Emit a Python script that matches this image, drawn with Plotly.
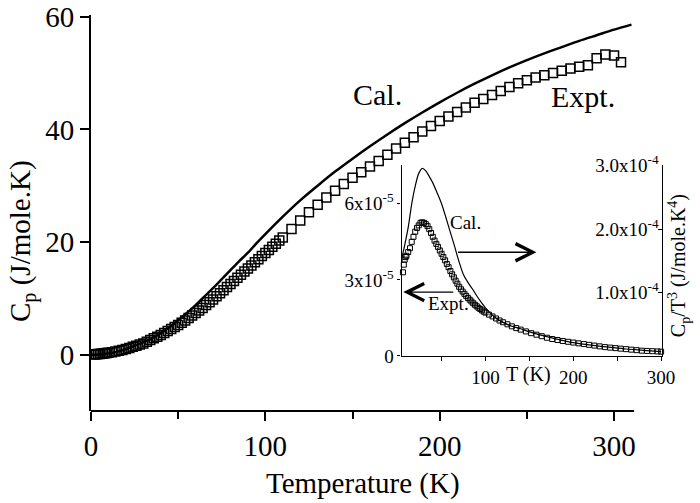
import plotly.graph_objects as go

# ---------------- main panel data ----------------
cal_T = [0, 5, 10, 15, 20, 25, 30, 35, 40, 45, 50, 55, 60, 65, 70, 75, 80, 85, 90, 95, 100,
         110, 120, 130, 140, 150, 160, 170, 180, 190, 200, 210, 220, 230, 240, 250, 260,
         270, 280, 290, 300, 310]
cal_Cp = [0, 0.05, 0.2, 0.5, 1.0, 1.6, 2.2, 2.9, 3.8, 4.9, 6.1, 7.4, 8.8, 10.3, 11.8, 13.4,
          15.0, 16.6, 18.1, 19.8, 21.4, 24.5, 27.4, 30.0, 32.5, 34.8, 37.0, 39.1, 41.1, 43.0,
          44.8, 46.5, 48.1, 49.6, 51.0, 52.3, 53.5, 54.6, 55.7, 56.7, 57.7, 58.6]

exp_T = [2, 3, 4, 5, 6, 7, 8, 9, 10, 12, 14, 16, 18, 20, 22, 24, 26, 28, 30, 32, 34, 36, 38,
         40, 42, 44, 46, 48, 50, 52, 54, 56, 58, 60, 62, 64, 66, 68, 70, 72, 74, 76, 78, 80,
         82, 84, 86, 88, 90, 92, 94, 96, 98, 100, 102, 104, 106, 108, 110,
         115, 120, 125, 130, 135, 140, 145, 150, 155, 160, 165, 170, 175, 180, 185, 190, 195,
         200, 205, 210, 215, 220, 225, 230, 235, 240, 245, 250, 255, 260, 265, 270, 275, 280,
         285, 290, 295, 300, 304]
exp_Cp = [0.05, 0.07, 0.1, 0.12, 0.15, 0.2, 0.25, 0.3, 0.35, 0.45, 0.55, 0.7, 0.85, 1.0, 1.2,
          1.4, 1.6, 1.8, 2.0, 2.3, 2.6, 2.9, 3.2,
          3.5, 3.85, 4.2, 4.55, 4.9, 5.25, 5.65, 6.05, 6.5, 6.95, 7.4, 7.85, 8.3, 8.8, 9.3, 9.8,
          10.35, 10.9, 11.45, 12.0, 12.55, 13.1, 13.65, 14.2, 14.75, 15.3, 15.85, 16.4, 16.95,
          17.5, 18.05, 18.6, 19.15, 19.7, 20.25, 20.8,
          22.3, 23.8, 25.3, 26.6, 27.9, 29.1, 30.3, 31.4, 32.4, 33.4, 34.4, 35.5, 36.6, 37.6,
          38.6, 39.6, 40.6, 41.5, 42.3, 43.1, 43.9, 44.7, 45.4, 46.1, 46.8, 47.5, 48.2, 48.7,
          49.2, 49.6, 50.0, 50.4, 50.8, 51.1, 51.4, 52.6, 53.3, 53.1, 51.9]

main_xticks = [0, 100, 200, 300]
main_xminor = [50, 150, 250]
main_yticks = [0, 20, 40, 60]

# ---------------- inset data ----------------
in_cal_T = [5, 8, 12, 16, 20, 24, 28, 32, 36, 40, 45, 50, 55, 60, 65, 70, 75, 80, 85, 90, 95,
            100, 110, 120, 130, 140, 150, 160, 180, 200, 220, 240, 260, 280, 300]
in_cal_v = [1.56e-4, 1.75e-4, 2.03e-4, 2.40e-4, 2.68e-4, 2.88e-4, 2.96e-4, 2.92e-4, 2.83e-4,
            2.73e-4, 2.57e-4, 2.40e-4, 2.18e-4, 1.95e-4, 1.72e-4, 1.48e-4, 1.28e-4, 1.16e-4,
            1.06e-4, 0.95e-4, 0.85e-4, 0.76e-4, 0.62e-4, 0.53e-4, 0.47e-4, 0.43e-4, 0.38e-4,
            0.34e-4, 0.27e-4, 0.21e-4, 0.17e-4, 0.14e-4, 0.11e-4, 0.09e-4, 0.07e-4]

in_exp_T = [6, 7, 8, 9, 10, 12, 14, 16, 18, 20, 22, 24, 26, 28, 30, 32, 34, 36, 38, 40, 42, 44,
            46, 48, 50, 52, 54, 56, 58, 60, 62, 64, 66, 68, 70, 72, 74, 76, 78, 80, 82, 84, 86,
            88, 90, 92, 94, 96, 98, 100, 104, 108, 112, 116, 120, 125, 130, 135, 140, 146, 152,
            158, 164, 170, 176, 182, 188, 194, 200, 206, 212, 218, 224, 230, 236, 242, 248, 254,
            260, 266, 272, 278, 284, 290, 296, 300]
in_exp_v = [3.3e-5, 3.6e-5, 3.8e-5, 3.9e-5, 3.95e-5, 4.1e-5, 4.25e-5, 4.5e-5, 4.7e-5, 4.9e-5,
            5.05e-5, 5.15e-5, 5.25e-5, 5.27e-5, 5.25e-5, 5.2e-5, 5.12e-5, 5.0e-5, 4.85e-5,
            4.7e-5, 4.55e-5, 4.42e-5, 4.3e-5, 4.16e-5, 4.03e-5, 3.9e-5, 3.77e-5, 3.63e-5,
            3.5e-5, 3.35e-5, 3.22e-5, 3.1e-5, 2.97e-5, 2.85e-5, 2.73e-5, 2.63e-5, 2.54e-5,
            2.45e-5, 2.37e-5, 2.29e-5, 2.22e-5, 2.15e-5, 2.08e-5, 2.02e-5, 1.96e-5, 1.9e-5,
            1.85e-5, 1.8e-5, 1.75e-5, 1.71e-5, 1.63e-5, 1.56e-5, 1.48e-5, 1.40e-5, 1.33e-5,
            1.25e-5, 1.17e-5, 1.1e-5, 1.04e-5, 0.97e-5, 0.9e-5, 0.84e-5, 0.78e-5, 0.72e-5,
            0.67e-5, 0.63e-5, 0.59e-5, 0.56e-5, 0.53e-5, 0.5e-5, 0.47e-5, 0.44e-5, 0.41e-5,
            0.38e-5, 0.35e-5, 0.33e-5, 0.31e-5, 0.29e-5, 0.27e-5, 0.25e-5, 0.23e-5, 0.21e-5,
            0.2e-5, 0.19e-5, 0.18e-5, 0.17e-5]

in_xticks = [100, 200, 300]
in_xminor = [50, 150, 250]
in_left_ticks = [0, 3e-5, 6e-5]
in_left_text = ["0", "3x10<sup>-5</sup>", "6x10<sup>-5</sup>"]
in_right_ticks = [1e-4, 2e-4, 3e-4]
in_right_text = ["1.0x10<sup>-4</sup>", "2.0x10<sup>-4</sup>", "3.0x10<sup>-4</sup>"]

FONT = "Liberation Serif, Times New Roman, serif"
BIG = dict(family=FONT, size=29, color="black")
SMALL = dict(family=FONT, size=19, color="black")

fig = go.Figure()
fig.add_trace(go.Scatter(x=cal_T, y=cal_Cp, mode="lines",
                         line=dict(color="black", width=2.5, shape="spline", smoothing=0.8),
                         xaxis="x", yaxis="y", showlegend=False))
fig.add_trace(go.Scatter(x=exp_T, y=exp_Cp, mode="markers",
                         marker=dict(symbol="square-open", size=9, color="black",
                                     line=dict(width=1.5, color="black")),
                         xaxis="x", yaxis="y", showlegend=False))
fig.add_trace(go.Scatter(x=in_exp_T, y=in_exp_v, mode="markers",
                         marker=dict(symbol="square-open", size=5, color="black",
                                     line=dict(width=1, color="black")),
                         xaxis="x2", yaxis="y2", showlegend=False, cliponaxis=False))
fig.add_trace(go.Scatter(x=in_cal_T, y=in_cal_v, mode="lines",
                         line=dict(color="black", width=1.2, shape="spline", smoothing=0.8),
                         xaxis="x2", yaxis="y3", showlegend=False))

axis_common = dict(showgrid=False, zeroline=False, color="black", ticklabeloverflow="allow",
                   automargin=False)

fig.update_layout(
    template="none",
    width=700, height=503,
    margin=dict(l=91, r=38, t=15, b=92),
    plot_bgcolor="white", paper_bgcolor="white",
    font=dict(family=FONT, color="black", size=29),
    xaxis=dict(domain=[0, 1], range=[0, 327.5], anchor="y", showline=False,
               ticks="outside", ticklen=9, tickwidth=2, tickvals=main_xticks,
               minor=dict(tickvals=main_xminor, ticks="outside", ticklen=7, tickwidth=2),
               tickfont=BIG, **axis_common),
    yaxis=dict(domain=[0, 1], range=[-10, 60.3], anchor="x", showline=True, linewidth=2,
               linecolor="black", ticks="outside", ticklen=9, tickwidth=2,
               tickvals=main_yticks, tickfont=BIG, **axis_common),
    xaxis2=dict(domain=[0.544, 1.0], range=[4.5, 301], anchor="y2", showline=True,
                linewidth=1.3, linecolor="black", ticks="outside", ticklen=4, tickwidth=1,
                tickvals=in_xticks,
                minor=dict(tickvals=in_xminor, ticks="outside", ticklen=4, tickwidth=1),
                tickfont=SMALL, **axis_common),
    yaxis2=dict(domain=[0.1389, 0.6212], range=[0, 7.53e-5], anchor="x2", showline=True,
                linewidth=1.3, linecolor="black", ticks="outside", ticklen=3, tickwidth=1,
                tickvals=in_left_ticks, ticktext=in_left_text, tickfont=SMALL,
                **axis_common),
    yaxis3=dict(overlaying="y2", side="right", anchor="x2", range=[0, 3.012e-4], showline=True,
                linewidth=1.3, linecolor="black", ticks="inside", ticklen=4, tickwidth=1,
                ticklabelposition="inside", tickvals=in_right_ticks, ticktext=in_right_text,
                tickfont=SMALL, **axis_common),
)

# main x axis line stops near 311 K as in the original figure
fig.add_shape(type="line", xref="x", yref="paper", x0=0, x1=311.5, y0=0, y1=0,
              line=dict(color="black", width=2))

ann = []
ann.append(dict(text="Temperature (K)", xref="paper", yref="paper", x=0.476, y=-0.184,
                showarrow=False, font=BIG, xanchor="center", yanchor="middle"))
ann.append(dict(text="C<sub>p</sub> (J/mole.K)", xref="paper", yref="paper", x=-0.121,
                y=0.429, textangle=-90, showarrow=False, font=BIG,
                xanchor="center", yanchor="middle"))
ann.append(dict(text="Cal.", xref="x", yref="y", x=164.6, y=46.1, showarrow=False,
                font=dict(family=FONT, size=30, color="black")))
ann.append(dict(text="Expt.", xref="x", yref="y", x=282.2, y=45.9, showarrow=False,
                font=dict(family=FONT, size=30, color="black")))
ann.append(dict(text="Cal.", xref="x2", yref="y2", x=77.6, y=5.25e-5, showarrow=False,
                font=SMALL))
ann.append(dict(text="Expt.", xref="x2", yref="y2", x=58.3, y=2.08e-5, showarrow=False,
                font=SMALL))
ann.append(dict(text="", xref="x2", yref="y2", axref="x2", ayref="y2", x=158, y=4.09e-5,
                ax=67, ay=4.09e-5, showarrow=True, arrowhead=5, arrowsize=2.6,
                arrowwidth=1.3, arrowcolor="black"))
ann.append(dict(text="", xref="x2", yref="y2", axref="x2", ayref="y2", x=6.4, y=2.52e-5,
                ax=65, ay=2.52e-5, showarrow=True, arrowhead=5, arrowsize=2.6,
                arrowwidth=1.3, arrowcolor="black"))
ann.append(dict(text="T (K)", xref="x2", yref="paper", x=149, y=0.093, showarrow=False,
                font=dict(family=FONT, size=20, color="black"),
                xanchor="center", yanchor="middle"))
ann.append(dict(text="C<sub>p</sub>/T<sup>3</sup> (J/mole.K<sup>4</sup>)", xref="paper",
                yref="paper", x=1.03, y=0.366, textangle=-90, showarrow=False,
                font=dict(family=FONT, size=20, color="black"),
                xanchor="center", yanchor="middle"))
fig.update_layout(annotations=ann)

fig.write_html("out.html")
